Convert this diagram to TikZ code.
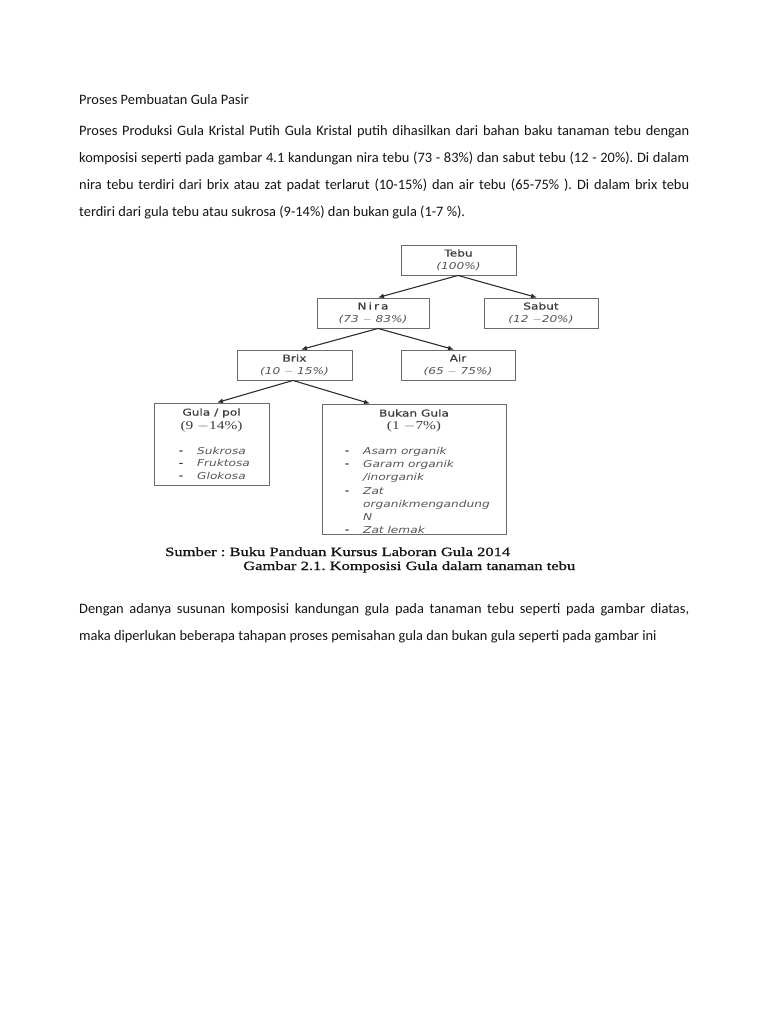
\documentclass[tikz,border=0pt]{standalone}
\usepackage{fontspec}
\usepackage{graphicx}
\setmainfont{Carlito}
\newfontfamily\dvs{DejaVu Sans}
\newfontfamily\dvh[FakeBold=0.5]{DejaVu Sans}
\newfontfamily\lsr{Liberation Serif}
\newfontfamily\lsrb[FakeBold=0.9]{Liberation Serif}
\usetikzlibrary{arrows.meta,calc}
\definecolor{boxline}{HTML}{6A6A6A}
\definecolor{boxtext}{HTML}{555555}
\definecolor{headtext}{HTML}{3C3C3C}
\definecolor{arrowc}{HTML}{2E2E2E}
\definecolor{bodytext}{HTML}{151515}
\newcommand{\wx}[1]{\scalebox{1.28}[1]{#1}}
\frenchspacing
\begin{document}
\begin{tikzpicture}[x=1pt,y=-1pt,
  body/.style={anchor=base west, inner sep=0, text=bodytext, font=\frenchspacing\fontsize{14.4}{16}\selectfont},
  box/.style={draw=boxline, line width=0.9pt, inner sep=0},
  head/.style={inner sep=0, text=headtext, font=\dvh\fontsize{9.5}{11}\selectfont},
  pct/.style={inner sep=0, text=boxtext, font=\dvs\itshape\fontsize{9.5}{11}\selectfont},
  spct/.style={inner sep=0, text=headtext, font=\lsr\fontsize{12}{13}\selectfont},
  item/.style={anchor=mid west, inner sep=0, text=boxtext, font=\dvs\itshape\fontsize{9.5}{11}\selectfont},
  bullet/.style={inner sep=0, text=headtext, font=\dvh\fontsize{9.5}{11}\selectfont},
  captext/.style={anchor=base west, inner sep=0, text=bodytext, font=\lsrb\fontsize{12.6}{14}\selectfont},
  arr/.style={draw=arrowc, line width=1.1pt, -{Latex[length=6pt,width=5pt]}}
]
\useasboundingbox[fill=white] (0,0) rectangle (768,1024);

% ---- paragraph 1
\node[body] (t0) at (79,104.5) {Proses Pembuatan Gula Pasir};
\node[body] (t1) at (79,135.5) {\makebox[610pt][s]{Proses Produksi Gula Kristal Putih Gula Kristal putih dihasilkan dari bahan baku tanaman tebu dengan}};
\node[body] (t2) at (79,162.5) {\makebox[610pt][s]{komposisi seperti pada gambar 4.1 kandungan nira tebu (73 - 83\%) dan sabut tebu (12 - 20\%). Di dalam}};
\node[body] (t3) at (79,189.5) {\makebox[610pt][s]{nira tebu terdiri dari brix atau zat padat terlarut (10-15\%) dan air tebu (65-75\% ). Di dalam brix tebu}};
\node[body] (t4) at (79,216.5) {terdiri dari gula tebu atau sukrosa (9-14\%) dan bukan gula (1-7 \%).};

% ---- diagram boxes
\node[box, minimum width=115pt, minimum height=30pt] (tebu) at (458.5,260) {};
\node[box, minimum width=112pt, minimum height=30pt] (nira) at (373,313) {};
\node[box, minimum width=114pt, minimum height=30pt] (sabut) at (541,313) {};
\node[box, minimum width=115pt, minimum height=30pt] (brix) at (294.5,365) {};
\node[box, minimum width=114pt, minimum height=30pt] (air) at (458,365) {};
\node[box, minimum width=115pt, minimum height=82pt] (gula) at (211.5,444) {};
\node[box, minimum width=184pt, minimum height=130pt] (bukan) at (414,469) {};

% box texts
\node[head] (tebuA) at (458.5,253) {\wx{Tebu}};
\node[pct]  (tebuB) at (458.5,266.5) {\wx{(100\%)}};
\node[head] (niraA) at (373,306) {\wx{N\,i\,r\,a}};
\node[pct]  (niraB) at (373,319.5) {\wx{(73 $-$ 83\%)}};
\node[head] (sabutA) at (541,306) {\wx{Sabut}};
\node[pct]  (sabutB) at (541,319.5) {\wx{(12 $-$20\%)}};
\node[head] (brixA) at (294.5,358) {\wx{Brix}};
\node[pct]  (brixB) at (294.5,371.5) {\wx{(10 $-$ 15\%)}};
\node[head] (airA) at (458,358) {\wx{Air}};
\node[pct]  (airB) at (458,371.5) {\wx{(65 $-$ 75\%)}};

\node[head] (gulaA) at (211.5,413) {\wx{Gula / pol}};
\node[spct] (gulaB) at (211.5,427) {\wx{(9 $-$14\%)}};
\node[bullet] (gd1) at (181,452) {\wx{-}};
\node[bullet] (gd2) at (181,464.5) {\wx{-}};
\node[bullet] (gd3) at (181,477) {\wx{-}};
\node[item] (gi1) at (197,452) {\wx{Sukrosa}};
\node[item] (gi2) at (197,464.5) {\wx{Fruktosa}};
\node[item] (gi3) at (197,477) {\wx{Glokosa}};

\node[head] (bukA) at (414,413) {\wx{Bukan Gula}};
\node[spct] (bukB) at (414,427) {\wx{(1 $-$7\%)}};
\node[bullet] (bd1) at (347,452) {\wx{-}};
\node[bullet] (bd2) at (347,465) {\wx{-}};
\node[bullet] (bd3) at (347,492) {\wx{-}};
\node[bullet] (bd4) at (347,531) {\wx{-}};
\node[item] (bi1) at (363,452) {\wx{Asam organik}};
\node[item] (bi2) at (363,465) {\wx{Garam organik}};
\node[item] (bi2b) at (363,478) {\wx{/inorganik}};
\node[item] (bi3) at (363,492) {\wx{Zat}};
\node[item] (bi3b) at (363,505) {\wx{organikmengandung}};
\node[item] (bi3c) at (363,518) {\wx{N}};
\node[item] (bi4) at (363,531) {\wx{Zat lemak}};

% arrows
\draw[arr] ([xshift=-0.5pt]tebu.south) -- ([xshift=5pt]nira.north);
\draw[arr] ([xshift=-0.5pt]tebu.south) -- ([xshift=-4pt]sabut.north);
\draw[arr] ([xshift=5pt]nira.south) -- ([xshift=6.5pt]brix.north);
\draw[arr] ([xshift=5pt]nira.south) -- ([xshift=-4pt]air.north);
\draw[arr] ([xshift=-1.5pt]brix.south) -- ([xshift=5.5pt]gula.north);
\draw[arr] ([xshift=-1.5pt]brix.south) -- ([xshift=-44pt]bukan.north);

% caption
\node[captext] (cap1) at (165,556) {\resizebox{345pt}{\height}{Sumber : Buku Panduan Kursus Laboran Gula 2014}};
\node[captext] (cap2) at (243,570) {\resizebox{332pt}{\height}{Gambar 2.1. Komposisi Gula dalam tanaman tebu}};

% ---- paragraph 2
\node[body] (p1) at (79,613.5) {\makebox[610pt][s]{Dengan adanya susunan komposisi kandungan gula pada tanaman tebu seperti pada gambar diatas,}};
\node[body] (p2) at (79,640.5) {maka diperlukan beberapa tahapan proses pemisahan gula dan bukan gula seperti pada gambar ini};
\end{tikzpicture}
\end{document}
